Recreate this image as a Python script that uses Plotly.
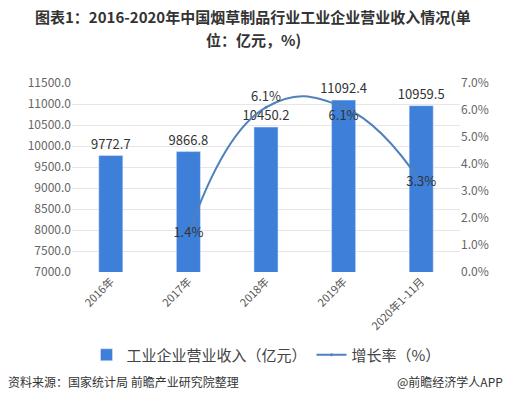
import plotly.graph_objects as go

categories = ["2016年", "2017年", "2018年", "2019年", "2020年1-11月"]
revenue = [9772.7, 9866.8, 10450.2, 11092.4, 10959.5]
growth_cats = ["2017年", "2018年", "2019年", "2020年1-11月"]
growth = [1.4, 6.1, 6.1, 3.3]
left_ticks = [7000 + 500 * i for i in range(10)]
right_ticks = [0, 1, 2, 3, 4, 5, 6, 7]

FONT = "Noto Sans CJK SC"
L, R, T, B = 72, 47, 83, 137
PH = 409 - T - B
PW = 507 - L - R

def py(y):
    return (409 - B - y) / PH

def px(x):
    return (x - L) / PW

fig = go.Figure()
fig.add_trace(go.Bar(
    x=categories, y=revenue, name="工业企业营业收入（亿元）",
    marker_color="#3d7fd9", width=0.31,
    text=[f"{v:.1f}" for v in revenue], textposition="outside",
    constraintext="none",
    textfont=dict(size=13, color="#333333", family=FONT),
    cliponaxis=False,
))
fig.add_trace(go.Scatter(
    x=growth_cats, y=growth, name="增长率（%）", yaxis="y2",
    mode="lines+markers+text", line=dict(color="#4f81bd", width=2, shape="spline", smoothing=1.3),
    marker=dict(size=3, color="#4f81bd"),
    text=[f"{v:.1f}%" for v in growth],
    textposition=["middle center", "top center", "bottom center", "middle center"],
    textfont=dict(size=13, color="#333333", family=FONT),
    cliponaxis=False,
))

fig.update_layout(
    width=507, height=409,
    margin=dict(l=L, r=R, t=T, b=B),
    paper_bgcolor="white", plot_bgcolor="white",
    font=dict(family=FONT, color="#555555"),
    xaxis=dict(
        tickangle=-45, tickfont=dict(size=11, color="#555555"),
        showline=False, showgrid=False, ticks="",
    ),
    yaxis=dict(
        range=[7000, 11500], tickvals=left_ticks,
        ticktext=[f"{v:.1f}" for v in left_ticks],
        tickfont=dict(size=12, color="#666666"),
        showgrid=True, gridcolor="#e6e6e6", zeroline=False,
    ),
    yaxis2=dict(
        overlaying="y", side="right", range=[0, 7], tickvals=right_ticks,
        ticktext=[f"{v:.1f}%" for v in right_ticks],
        tickfont=dict(size=12, color="#666666"),
        showgrid=False, zeroline=False,
    ),
    legend=dict(
        orientation="h", x=0.5, xanchor="center", y=py(355), yanchor="middle",
        font=dict(size=15, color="#444444"), itemwidth=30,
    ),
    showlegend=True,
    bargap=0.6,
)

fig.add_annotation(
    text="<b>图表1：2016-2020年中国烟草制品行业工业企业营业收入情况(单</b>",
    xref="paper", yref="paper", x=px(253), y=py(16), xanchor="center", yanchor="middle",
    showarrow=False, font=dict(size=15, color="#333333", family=FONT),
)
fig.add_annotation(
    text="<b>位：亿元，%)</b>",
    xref="paper", yref="paper", x=px(253), y=py(39), xanchor="center", yanchor="middle",
    showarrow=False, font=dict(size=15, color="#333333", family=FONT),
)
fig.add_annotation(
    text="资料来源：国家统计局 前瞻产业研究院整理", xref="paper", yref="paper",
    x=px(6), y=py(381), xanchor="left", yanchor="middle", showarrow=False,
    font=dict(size=12, color="#333333", family=FONT),
)
fig.add_annotation(
    text="@前瞻经济学人APP", xref="paper", yref="paper",
    x=px(505), y=py(381), xanchor="right", yanchor="middle", showarrow=False,
    font=dict(size=12, color="#333333", family=FONT),
)

fig.write_html("out.html")
